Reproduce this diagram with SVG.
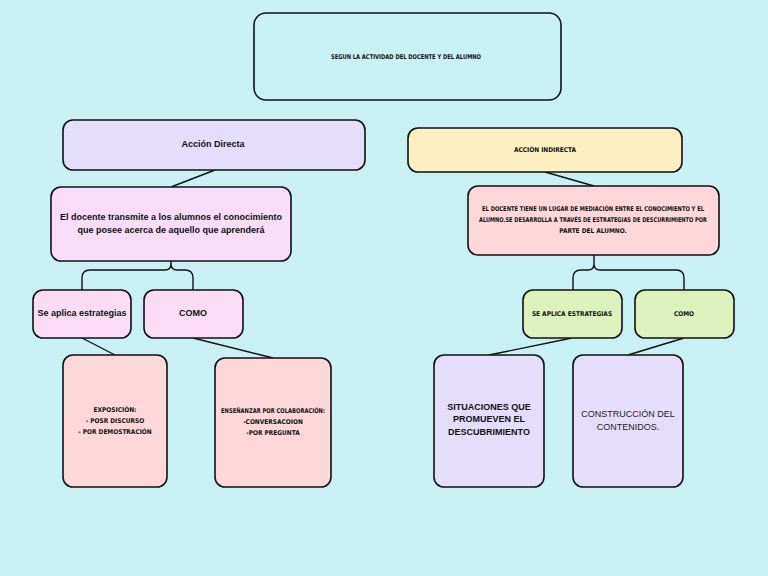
<svg xmlns="http://www.w3.org/2000/svg" width="768" height="576" viewBox="0 0 768 576">
<style>
.n{stroke:#111;stroke-width:1.6}
.c{fill:none;stroke:#111;stroke-width:1.4}
.b{font-family:"Liberation Sans",Arial,sans-serif;font-weight:bold;font-size:9px;fill:#111;text-anchor:middle}
.h{font-family:"DejaVu Sans Condensed","Liberation Sans",sans-serif;font-weight:bold;font-size:6.5px;fill:#111;text-anchor:middle}
.r{font-family:"Liberation Sans",Arial,sans-serif;font-size:9px;fill:#222;text-anchor:middle}
</style>
<rect width="768" height="576" fill="#c9f0f2"/>
<g id="connectors">
<path class="c" d="M215 170 L171 187"/>
<path class="c" d="M171 261 V264 Q171 270 165 270 H90 Q82 270 82 278 V290 M171 264 Q171 270 177 270 H185 Q193 270 193 278 V290"/>
<path class="c" d="M545 172 L594 186"/>
<path class="c" d="M594 255 V264 Q594 270 588 270 H581 Q573 270 573 278 V290 M594 264 Q594 270 600 270 H676 Q684 270 684 278 V290"/>
<path class="c" d="M82 338 L115 355 M193 338 L273 358 M572 338 L489 355 M684 338 L628 355"/>
</g>
<g id="title"><rect class="n" x="254" y="13" width="307" height="87" rx="12" fill="#c9f0f2"/><text class="h" x="406" y="59" textLength="150" lengthAdjust="spacingAndGlyphs">SEGUN LA ACTIVIDAD DEL DOCENTE Y DEL ALUMNO</text></g>
<g id="directa"><rect class="n" x="63" y="120" width="302" height="50" rx="10" fill="#e4defc"/><text class="b" x="213" y="147">Acción Directa</text></g>
<g id="indirecta"><rect class="n" x="408" y="128" width="274" height="44" rx="10" fill="#fdefbf"/><text class="h" x="545" y="152">ACCIÓN INDIRECTA</text></g>
<g id="transmite"><rect class="n" x="51" y="187" width="240" height="74" rx="10" fill="#f8dcf8"/><text class="b" x="171" y="220">El docente transmite a los alumnos el conocimiento</text><text class="b" x="171" y="233">que posee acerca de aquello que aprenderá</text></g>
<g id="mediacion"><rect class="n" x="468" y="186" width="251" height="69" rx="10" fill="#fdd7da"/><text class="h" x="593" y="211" textLength="222" lengthAdjust="spacingAndGlyphs">EL DOCENTE TIENE UN LUGAR DE MEDIACIÓN ENTRE EL CONOCIMIENTO Y EL</text><text class="h" x="593" y="222" textLength="228" lengthAdjust="spacingAndGlyphs">ALUMNO.SE DESARROLLA A TRAVÉS DE ESTRATEGIAS DE DESCURRIMIENTO POR</text><text class="h" x="593" y="233">PARTE DEL ALUMNO.</text></g>
<g id="aplica1"><rect class="n" x="33" y="290" width="98" height="48" rx="10" fill="#fbdcf4"/><text class="b" x="82" y="316">Se aplica estrategias</text></g>
<g id="como1"><rect class="n" x="144" y="290" width="99" height="48" rx="10" fill="#fbdcf4"/><text class="b" x="193" y="316">COMO</text></g>
<g id="aplica2"><rect class="n" x="523" y="290" width="99" height="48" rx="10" fill="#dbf2bc"/><text class="h" x="572" y="316">SE APLICA ESTRATEGIAS</text></g>
<g id="como2"><rect class="n" x="635" y="290" width="99" height="48" rx="10" fill="#dbf2bc"/><text class="h" x="684" y="316">COMO</text></g>
<g id="exposicion"><rect class="n" x="63" y="355" width="104" height="132" rx="10" fill="#fdd7da"/><text class="h" x="115" y="412">EXPOSICIÓN:</text><text class="h" x="115" y="423">- POSR DISCURSO</text><text class="h" x="115" y="434">- POR  DEMOSTRACIÓN</text></g>
<g id="colaboracion"><rect class="n" x="215" y="358" width="116" height="129" rx="10" fill="#fdd7da"/><text class="h" x="273" y="413" textLength="104" lengthAdjust="spacingAndGlyphs">ENSEÑANZAR POR COLABORACIÓN:</text><text class="h" x="273" y="424">-CONVERSACOION</text><text class="h" x="273" y="435">-POR PREGUNTA</text></g>
<g id="situaciones"><rect class="n" x="434" y="355" width="110" height="132" rx="10" fill="#e4defc"/><text class="b" x="489" y="410">SITUACIONES QUE</text><text class="b" x="489" y="422">PROMUEVEN EL</text><text class="b" x="489" y="435">DESCUBRIMIENTO</text></g>
<g id="construccion"><rect class="n" x="573" y="355" width="110" height="132" rx="10" fill="#e4defc"/><text class="r" x="628" y="417">CONSTRUCCIÓN DEL</text><text class="r" x="628" y="430">CONTENIDOS.</text></g>
</svg>
